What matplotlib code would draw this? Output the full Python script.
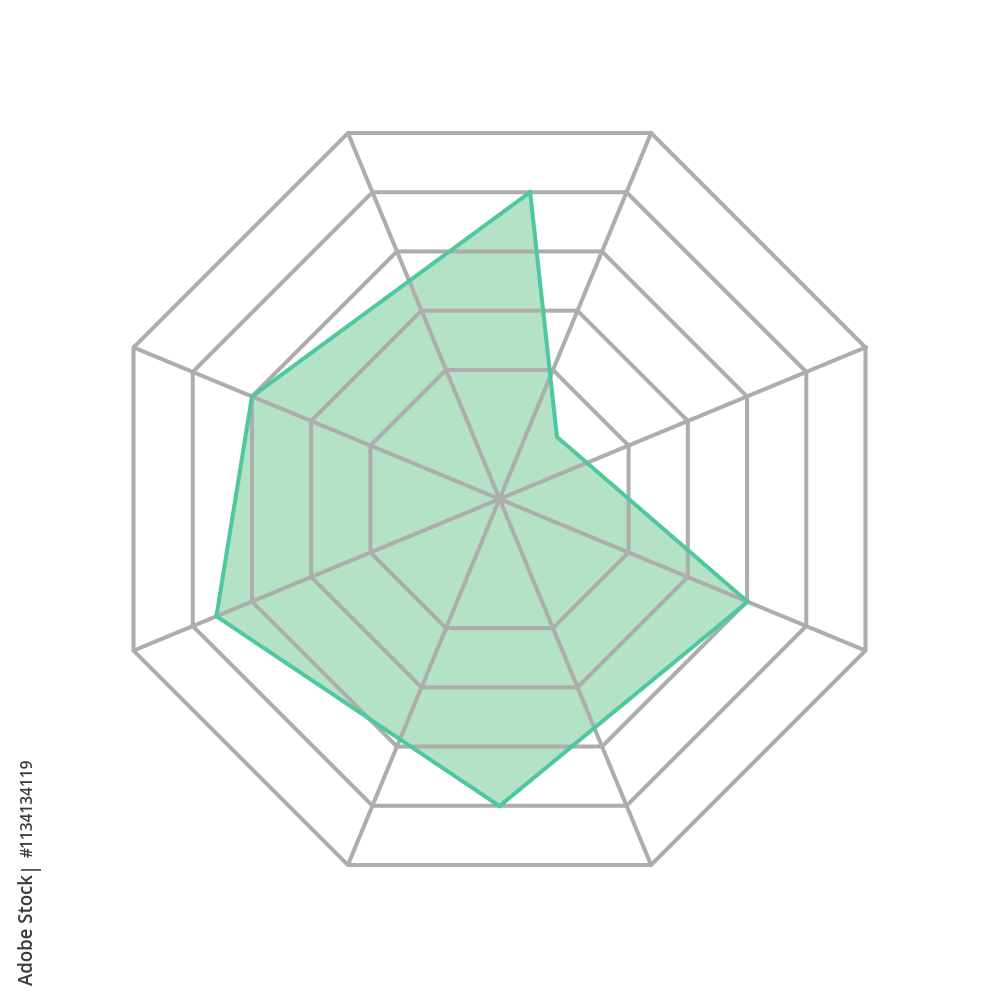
import numpy as np
import matplotlib
matplotlib.use("Agg")
import matplotlib.pyplot as plt

# Grid definition
ring_values = [1, 2, 3, 4, 5]
spoke_angles_deg = [22.5, 67.5, 112.5, 157.5, 202.5, 247.5, 292.5, 337.5]
radial_origin = -1.18  # value at the centre of the chart

# Data polygon (angle in degrees, value in ring units)
point_angles_deg = [84.3, 47.2, 337.5, 270.0, 202.5, 157.5]
point_values = [3.63, 0.14, 3.01, 3.61, 3.60, 3.00]

credit_parts = ["Adobe Stock", "|", "#1134134119"]

grid_color = "#ADADAD"
edge_color = "#4EC89E"
fill_color = "#B4E2C6"
text_color = "#3A3A3A"

fig = plt.figure(figsize=(10, 10), dpi=100)
ax = fig.add_axes([0, 0, 1, 1])
ax.set_aspect("equal")
ax.axis("off")

px_per_unit = 64.1
ax.set_xlim(-499.5 / px_per_unit, 500.5 / px_per_unit)
ax.set_ylim(-501 / px_per_unit, 499 / px_per_unit)


def to_xy(angles_deg, values):
    a = np.deg2rad(np.asarray(angles_deg, dtype=float))
    r = np.asarray(values, dtype=float) - radial_origin
    return r * np.cos(a), r * np.sin(a)


# data fill
px, py = to_xy(point_angles_deg, point_values)
ax.fill(px, py, color=fill_color, zorder=1, lw=0)

# rings
for v in ring_values:
    gx, gy = to_xy(spoke_angles_deg + spoke_angles_deg[:1], [v] * (len(spoke_angles_deg) + 1))
    ax.plot(gx, gy, color=grid_color, lw=2.9, zorder=2, solid_joinstyle="miter")

# spokes
for ang in spoke_angles_deg:
    sx, sy = to_xy([ang, ang], [radial_origin, ring_values[-1]])
    ax.plot(sx, sy, color=grid_color, lw=2.9, zorder=2, solid_capstyle="butt")

# data outline
ax.plot(np.append(px, px[0]), np.append(py, py[0]), color=edge_color, lw=2.9,
        zorder=3, solid_joinstyle="miter")

fam = ["Open Sans", "DejaVu Sans"]
renderer = fig.canvas.get_renderer()
t1 = fig.text(0.033, 0.015, credit_parts[0], rotation=90, rotation_mode="anchor",
              ha="left", va="baseline", fontsize=13.4, weight="semibold",
              color=text_color, family=fam)
top1 = t1.get_window_extent(renderer).y1 / 1000.0
t2 = fig.text(0.033, top1 + 0.004, credit_parts[1], rotation=90, rotation_mode="anchor",
              ha="left", va="baseline", fontsize=13.4, weight="semibold",
              color=text_color, family=fam)
top2 = t2.get_window_extent(renderer).y1 / 1000.0
fig.text(0.033, top2 + 0.003, credit_parts[2], rotation=90, rotation_mode="anchor",
         ha="left", va="baseline", fontsize=11.2, weight="semibold",
         color=text_color, family=fam)

fig.savefig("out.png", dpi=100, facecolor="white")
